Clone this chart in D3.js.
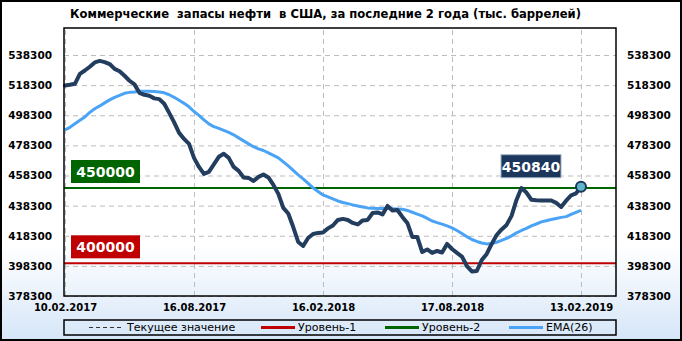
<!DOCTYPE html>
<html>
<head>
<meta charset="utf-8">
<script src="https://cdn.jsdelivr.net/npm/d3@7"></script>
<style>
    html, body { margin: 0; padding: 0; background: #fff; }
    svg { display: block; }
</style>
</head>
<body>
<div id="chart"></div>
<script>
// Weekly US commercial crude stocks, thousand barrels
const TITLE = 'Коммерческие  запасы нефти  в США, за последние 2 года (тыс. баррелей)';

const dateLabels = ['10.02.2017', '16.08.2017', '16.02.2018', '17.08.2018', '13.02.2019'];
const dateIndex = [0, 26, 52, 78, 104];

const yTicks = [378300, 398300, 418300, 438300, 458300, 478300, 498300, 518300, 538300];

const stocks = [
    518000, 518500, 519200, 525800, 528000, 530500, 533400, 534400, 533600, 532300,
    529100, 527500, 524500, 521200, 518800, 513200, 511900, 511200, 509500, 509000,
    505900, 499900, 493600, 486600, 482600, 479300, 470000, 464000, 459400, 460700,
    465700, 470700, 472700, 470000, 464000, 461400, 457000, 456700, 454700, 457400,
    459000, 457000, 452100, 446100, 436800, 433100, 424100, 414200, 411500, 416800,
    419500, 420200, 420500, 423200, 425100, 428800, 429500, 428800, 426800, 425800,
    428500, 428800, 433400, 433800, 432500, 438100, 435100, 435400, 430800, 426800,
    417500, 417500, 407500, 409200, 406900, 408200, 407200, 412900, 409500, 406900,
    404500, 398200, 394600, 394900, 402200, 406200, 412900, 418800, 422500, 425500,
    431500, 442100, 450000, 447000, 442200, 441800, 441700, 441700, 441700, 440100,
    437400, 441600, 445100, 446400, 450840
];

const ema26 = [
    488600, 490300, 492600, 495000, 497200, 500200, 502600, 504500, 506500, 508500,
    510200, 511500, 512900, 513500, 513800, 514200, 514300, 514200, 514000, 513700,
    513200, 511900, 510200, 508200, 506200, 503900, 500800, 498200, 495200, 492600,
    490700, 489600, 488300, 486900, 485300, 483300, 481300, 479300, 477400, 476000,
    474900, 473300, 471700, 470000, 467300, 464700, 461700, 458700, 456000, 453100,
    450100, 447700, 445400, 444100, 442800, 441400, 440400, 439600, 438800, 438100,
    437400, 436800, 436600, 436400, 436400, 436400, 436300, 436100, 435900, 435100,
    433900, 432700, 431500, 429800, 428100, 427000, 426000, 424800, 423500, 421800,
    419800, 417700, 415800, 414500, 413500, 412900, 413100, 414000, 415200, 416500,
    418200, 420200, 421800, 423200, 424800, 426100, 427500, 428300, 429100, 429800,
    430500, 431000, 432500, 433800, 435100
];

const levels = [
    { name: 'Уровень-1', value: 400000, color: '#c00000' },
    { name: 'Уровень-2', value: 450000, color: '#006400' }
];

const legendItems = [
    { label: 'Текущее значение', color: '#333', dash: '4,3', x: 89 },
    { label: 'Уровень-1', color: '#c00000', dash: null, x: 261 },
    { label: 'Уровень-2', color: '#006400', dash: null, x: 385 },
    { label: 'EMA(26)', color: '#4aa3f5', dash: null, x: 509 }
];

const W = 682, H = 341;
const frame = { left: 64, right: 616, top: 28, bottom: 296 };
const FONT = "'DejaVu Sans', sans-serif";
const LINE_COLOR = '#233d5e';
const EMA_COLOR = '#4aa3f5';

function renderChart() {
    const svg = d3.select('#chart')
        .append('svg')
        .attr('width', W)
        .attr('height', H);

    // Background gradient (white -> pale blue)
    const grad = svg.append('defs').append('linearGradient')
        .attr('id', 'bg').attr('x1', 0).attr('y1', 0).attr('x2', 0).attr('y2', 1);
    grad.append('stop').attr('offset', '0').attr('stop-color', '#ffffff');
    grad.append('stop').attr('offset', '0.72').attr('stop-color', '#ffffff');
    grad.append('stop').attr('offset', '1').attr('stop-color', '#d6e6f8');

    svg.append('rect')
        .attr('x', 1).attr('y', 1)
        .attr('width', W - 2).attr('height', H - 2)
        .attr('fill', 'url(#bg)')
        .attr('stroke', '#000')
        .attr('stroke-width', 2);

    const x = d3.scaleLinear().domain([0, 104]).range([65, 581]);
    const y = d3.scaleLinear().domain([378300, 538300]).range([296, 55]);

    // Title
    svg.append('text')
        .attr('x', 70).attr('y', 18)
        .attr('font-family', FONT)
        .attr('font-size', '12.5px')
        .attr('font-weight', 'bold')
        .attr('fill', '#000')
        .attr('textLength', 511)
        .attr('lengthAdjust', 'spacingAndGlyphs')
        .style('white-space', 'pre')
        .text(TITLE);

    // Grid
    const gridY = svg.append('g')
        .attr('transform', `translate(${frame.left},0)`)
        .call(d3.axisLeft(y).tickValues(yTicks).tickSize(-(frame.right - frame.left)).tickFormat(''));
    const gridX = svg.append('g')
        .attr('transform', `translate(0,${frame.bottom})`)
        .call(d3.axisBottom(x).tickValues(dateIndex).tickSize(-(frame.bottom - frame.top)).tickFormat(''));
    [gridX, gridY].forEach(g => {
        g.select('.domain').remove();
        g.selectAll('line')
            .attr('stroke', '#bdbdbd')
            .attr('stroke-width', 1)
            .attr('stroke-dasharray', '5,4');
    });

    // Axis labels
    const axisL = svg.append('g')
        .attr('transform', `translate(${frame.left},0)`)
        .call(d3.axisLeft(y).tickValues(yTicks).tickSize(0).tickPadding(12).tickFormat(d3.format('d')));
    const axisR = svg.append('g')
        .attr('transform', `translate(${frame.right},0)`)
        .call(d3.axisRight(y).tickValues(yTicks).tickSize(0).tickPadding(11).tickFormat(d3.format('d')));
    const axisB = svg.append('g')
        .attr('transform', `translate(0,${frame.bottom})`)
        .call(d3.axisBottom(x).tickValues(dateIndex).tickSize(0).tickPadding(8)
            .tickFormat((d, i) => dateLabels[i]));
    [axisL, axisR, axisB].forEach(g => {
        g.select('.domain').remove();
        g.selectAll('text')
            .attr('font-family', FONT)
            .attr('font-weight', 'bold')
            .attr('fill', '#000');
    });
    axisL.selectAll('text').attr('font-size', '10.5px');
    axisR.selectAll('text').attr('font-size', '10.5px');
    axisB.selectAll('text').attr('font-size', '10px');

    // Level lines
    svg.append('g')
        .selectAll('line')
        .data(levels)
        .join('line')
        .attr('x1', frame.left).attr('x2', frame.right)
        .attr('y1', d => y(d.value)).attr('y2', d => y(d.value))
        .attr('stroke', d => d.color)
        .attr('stroke-width', 2);

    // EMA
    const line = d3.line()
        .x((d, i) => x(i))
        .y(d => y(d));

    svg.append('path')
        .datum(ema26)
        .attr('d', line)
        .attr('fill', 'none')
        .attr('stroke', EMA_COLOR)
        .attr('stroke-width', 3)
        .attr('stroke-linejoin', 'round');

    // Stocks
    svg.append('path')
        .datum(stocks)
        .attr('d', line)
        .attr('fill', 'none')
        .attr('stroke', LINE_COLOR)
        .attr('stroke-width', 4)
        .attr('stroke-linejoin', 'round')
        .attr('stroke-linecap', 'round');

    // Plot frame
    svg.append('rect')
        .attr('x', frame.left).attr('y', frame.top)
        .attr('width', frame.right - frame.left)
        .attr('height', frame.bottom - frame.top)
        .attr('fill', 'none')
        .attr('stroke', '#000')
        .attr('stroke-width', 1.5);

    // Level value boxes
    const lvl = svg.append('g')
        .selectAll('g')
        .data(levels)
        .join('g')
        .attr('transform', d => `translate(71,${y(d.value) - 28})`);
    lvl.append('rect')
        .attr('width', 69).attr('height', 23)
        .attr('fill', d => d.color);
    lvl.append('text')
        .attr('x', 34.5).attr('y', 17)
        .attr('text-anchor', 'middle')
        .attr('font-family', FONT)
        .attr('font-size', '14px')
        .attr('font-weight', 'bold')
        .attr('fill', '#fff')
        .text(d => d.value);

    // Last value marker
    const last = stocks.length - 1;
    const lx = x(last), ly = y(stocks[last]);
    const tag = svg.append('g')
        .attr('transform', `translate(${lx - 80},${ly - 32})`);
    tag.append('rect')
        .attr('width', 60).attr('height', 23)
        .attr('fill', '#1c365c')
        .attr('stroke', '#9fb3c8')
        .attr('stroke-width', 1);
    tag.append('text')
        .attr('x', 30).attr('y', 17)
        .attr('text-anchor', 'middle')
        .attr('font-family', FONT)
        .attr('font-size', '14px')
        .attr('font-weight', 'bold')
        .attr('fill', '#fff')
        .text(stocks[last]);

    svg.append('circle')
        .attr('cx', lx).attr('cy', ly)
        .attr('r', 5)
        .attr('fill', '#5fb6c8')
        .attr('stroke', '#1c365c')
        .attr('stroke-width', 2);

    // Legend
    const legend = svg.append('g');
    legend.append('rect')
        .attr('x', frame.left).attr('y', 320)
        .attr('width', frame.right - frame.left).attr('height', 15)
        .attr('fill', 'none')
        .attr('stroke', '#000')
        .attr('stroke-width', 1.5);

    const item = legend.selectAll('g')
        .data(legendItems)
        .join('g')
        .attr('transform', d => `translate(${d.x},327.5)`);
    item.append('line')
        .attr('x1', 0).attr('x2', 34)
        .attr('stroke', d => d.color)
        .attr('stroke-width', d => d.dash ? 1 : 3)
        .attr('stroke-dasharray', d => d.dash);
    item.append('text')
        .attr('x', d => d.dash ? 38 : 37)
        .attr('dy', '0.35em')
        .attr('font-family', FONT)
        .attr('font-size', '11px')
        .attr('fill', '#000')
        .text(d => d.label);
}

renderChart();
</script>
</body>
</html>
